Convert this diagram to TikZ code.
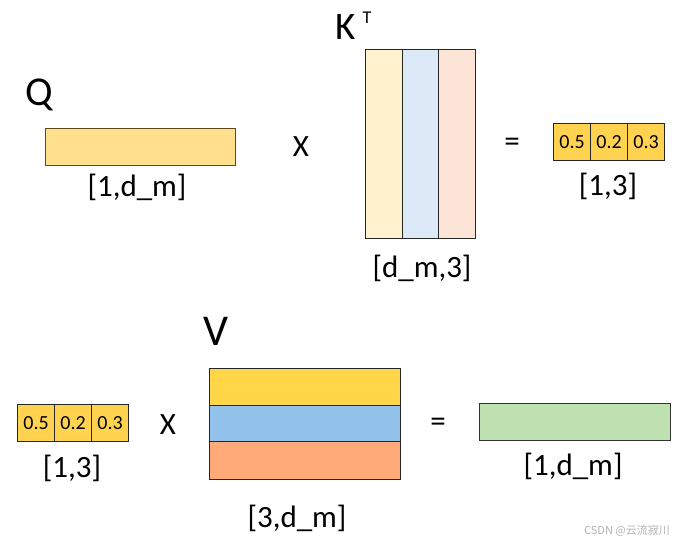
\documentclass[tikz,border=0pt]{standalone}
\usepackage{fontspec}
\setmainfont{Carlito}
\newfontfamily\cjk{Noto Sans CJK SC}
\definecolor{qfill}{HTML}{FFE08C}
\definecolor{qedge}{HTML}{5A4A1E}
\definecolor{kyel}{HTML}{FFF2CC}
\definecolor{kblue}{HTML}{DCEAF7}
\definecolor{korg}{HTML}{FCE4D6}
\definecolor{cellfill}{HTML}{FFD34F}
\definecolor{vyel}{HTML}{FFD647}
\definecolor{vblue}{HTML}{93C3EA}
\definecolor{vorg}{HTML}{FFAA78}
\definecolor{gfill}{HTML}{BFE0B0}
\begin{document}
\begin{tikzpicture}[x=1pt,y=-1pt,
  box/.style={draw=black!85, line width=1.2pt, inner sep=0pt, anchor=north west},
  cell/.style={box, fill=cellfill, minimum width=37pt, minimum height=37pt, font=\fontsize{20}{20}\selectfont},
  lab/.style={inner sep=0pt, font=\fontsize{31}{31}\selectfont},
  big/.style={inner sep=0pt, font=\fontsize{41}{41}\selectfont}]
\useasboundingbox (0,0) rectangle (684,545);
% Q
\node[big] (qname) at (39,95) {Q};
\node[box, draw=qedge, fill=qfill, minimum width=190pt, minimum height=37pt] (qbox) at (45,128) {};
\node[lab] (qlab) at (137,187) {[1,d\_m]};
% times
\node[lab] (times1) at (301,147) {X};
% K^T
\node[big, font=\fontsize{39}{39}\selectfont] (kname) at (346,27) {K};
\node[inner sep=0pt, font=\fontsize{18}{18}\selectfont] (ksup) at (367,18) {T};
\node[box, fill=kyel, minimum width=37pt, minimum height=189pt] (k1) at (365,49) {};
\node[box, fill=kblue, minimum width=36pt, minimum height=189pt] (k2) at (402,49) {};
\node[box, fill=korg, minimum width=37pt, minimum height=189pt] (k3) at (438,49) {};
\node[lab] (klab) at (422,268) {[d\_m,3]};
% equals
\node[lab] (eq1) at (512,145) {=};
% scores top
\node[cell] (s1) at (553,123) {0.5};
\node[cell] (s2) at (590,123) {0.2};
\node[cell] (s3) at (627,123) {0.3};
\node[lab] (slab) at (608,186) {[1,3]};
% scores bottom
\node[cell] (b1) at (17,404) {0.5};
\node[cell] (b2) at (54,404) {0.2};
\node[cell] (b3) at (91,404) {0.3};
\node[lab] (blab) at (72,468) {[1,3]};
\node[lab] (times2) at (168,425) {X};
% V
\node[big, font=\fontsize{44}{44}\selectfont] (vname) at (216,331) {V};
\node[box, fill=vyel, minimum width=191pt, minimum height=37pt] (v1) at (209,368) {};
\node[box, fill=vblue, minimum width=191pt, minimum height=36pt] (v2) at (209,405) {};
\node[box, fill=vorg, minimum width=191pt, minimum height=38pt] (v3) at (209,441) {};
\node[lab] (vlab) at (297,518) {[3,d\_m]};
% equals
\node[lab] (eq2) at (438,425) {=};
% result
\node[box, draw=black!80, fill=gfill, minimum width=191pt, minimum height=37pt] (res) at (479,403) {};
\node[lab] (rlab) at (573,466) {[1,d\_m]};
% watermark
\node[inner sep=0pt, text=black!30, font=\cjk\fontsize{11}{11}\selectfont] (mark) at (627,531) {CSDN @云流寂川};
\end{tikzpicture}
\end{document}
